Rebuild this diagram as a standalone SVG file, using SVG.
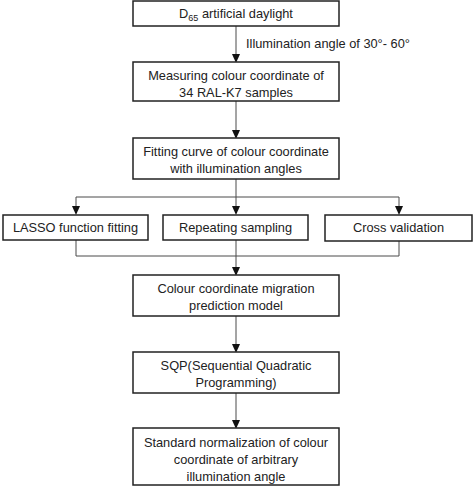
<svg xmlns="http://www.w3.org/2000/svg" width="474" height="487" viewBox="0 0 474 487">
<defs>
<style>
.box{fill:#fff;stroke:#222;stroke-width:1.5}
.t{font-family:"Liberation Sans",Arial,sans-serif;font-size:12.8px;fill:#222;text-anchor:middle}
.lbl{font-family:"Liberation Sans",Arial,sans-serif;font-size:12.8px;fill:#222}
.c{fill:none;stroke:#4a4a4a;stroke-width:1}
.ah{fill:#111}
</style>
</defs>
<rect width="474" height="487" fill="#fff"/>
<g id="connectors">
<path class="c" d="M236,26 V56"/>
<path class="c" d="M236,101 V132"/>
<path class="c" d="M236,179 V208"/>
<path class="c" d="M76,197 H399"/>
<path class="c" d="M76,197 V208"/>
<path class="c" d="M399,197 V208"/>
<path class="c" d="M76,240 V256 H399 V241"/>
<path class="c" d="M236,240 V269"/>
<path class="c" d="M236,316 V346"/>
<path class="c" d="M236,393 V422"/>
<path class="ah" d="M232,54 L240,54 L236,63 Z"/>
<path class="ah" d="M232,130 L240,130 L236,139 Z"/>
<path class="ah" d="M72,206 L80,206 L76,215 Z"/>
<path class="ah" d="M232,206 L240,206 L236,215 Z"/>
<path class="ah" d="M395,206 L403,206 L399,215 Z"/>
<path class="ah" d="M232,267 L240,267 L236,276 Z"/>
<path class="ah" d="M232,344 L240,344 L236,353 Z"/>
<path class="ah" d="M232,420 L240,420 L236,429 Z"/>
<text class="lbl" x="246" y="48">Illumination angle of 30°- 60°</text>
</g>
<g id="n1">
<rect class="box" x="133" y="1" width="206" height="25"/>
<text class="t" x="236" y="18">D<tspan font-size="9" dy="3">65</tspan><tspan dy="-3"> artificial daylight</tspan></text>
</g>
<g id="n2">
<rect class="box" x="133" y="62" width="206" height="39"/>
<text class="t" x="236" y="80">Measuring colour coordinate of</text>
<text class="t" x="236" y="97">34 RAL-K7 samples</text>
</g>
<g id="n3">
<rect class="box" x="133" y="138" width="206" height="41"/>
<text class="t" x="236" y="156">Fitting curve of colour coordinate</text>
<text class="t" x="236" y="173">with illumination angles</text>
</g>
<g id="n4">
<rect class="box" x="3" y="215" width="145" height="25"/>
<text class="t" x="75.5" y="232">LASSO function fitting</text>
</g>
<g id="n5">
<rect class="box" x="163" y="215" width="145" height="25"/>
<text class="t" x="235.5" y="232">Repeating sampling</text>
</g>
<g id="n6">
<rect class="box" x="325" y="215" width="147" height="26"/>
<text class="t" x="398.5" y="232">Cross validation</text>
</g>
<g id="n7">
<rect class="box" x="133" y="275" width="206" height="41"/>
<text class="t" x="236" y="293">Colour coordinate migration</text>
<text class="t" x="236" y="310">prediction model</text>
</g>
<g id="n8">
<rect class="box" x="133" y="352" width="206" height="41"/>
<text class="t" x="236" y="370">SQP(Sequential Quadratic</text>
<text class="t" x="236" y="387">Programming)</text>
</g>
<g id="n9">
<rect class="box" x="133" y="428" width="206" height="57"/>
<text class="t" x="236" y="447">Standard normalization of colour</text>
<text class="t" x="236" y="464">coordinate of arbitrary</text>
<text class="t" x="236" y="481">illumination angle</text>
</g>
</svg>
